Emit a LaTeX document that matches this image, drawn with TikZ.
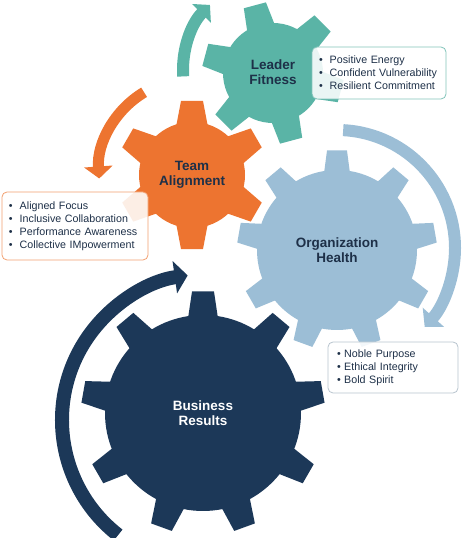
\documentclass[tikz,border=0pt]{standalone}
\usepackage{fontspec}
\setmainfont{Liberation Sans}
\usetikzlibrary{arrows.meta}
\definecolor{fitteal}{RGB}{90,180,166}
\definecolor{teamorange}{RGB}{237,116,48}
\definecolor{healthblue}{RGB}{156,190,214}
\definecolor{resultnavy}{RGB}{28,56,88}
\definecolor{labelnavy}{RGB}{30,48,72}
\definecolor{fitline}{RGB}{130,196,186}
\definecolor{teamline}{RGB}{242,160,112}
\definecolor{healthline}{RGB}{184,196,206}
\newcommand\bul[1][7pt]{\textbullet\hspace{#1}}
% centre, body radius, tip radius, tooth angles, half base, half tip, colour
\newcommand\drawgear[7]{%
\begin{scope}[shift={(#1)}]
\pgfmathsetmacro\gbase{deg(#5/#2)}
\pgfmathsetmacro\gtip{deg(#6/#3)}
\foreach \a in {#4}
  \draw[white,line width=3pt,line join=round] ({\a-\gbase}:{#2-4})--({\a-\gtip}:#3)--({\a+\gtip}:#3)--({\a+\gbase}:{#2-4})--cycle;
\draw[white,line width=3pt] (0,0) circle (#2pt);
\foreach \a in {#4}
  \fill[#7] ({\a-\gbase}:{#2-4})--({\a-\gtip}:#3)--({\a+\gtip}:#3)--({\a+\gbase}:{#2-4})--cycle;
\fill[#7] (0,0) circle (#2pt);
\end{scope}}
\begin{document}
\begin{tikzpicture}[x=1pt,y=1pt,
  gearlabel/.style={align=center,text=labelnavy,font=\fontsize{13.5}{14.5}\selectfont\bfseries},
  bulletbox/.style={draw,line width=0.8pt,rounded corners=5pt,fill=white,fill opacity=0.88,text opacity=1,
    align=left,inner xsep=7pt,text=labelnavy,font=\fontsize{10.7}{13}\selectfont}]
\useasboundingbox (0,0) rectangle (474,538);
\coordinate (fitC) at (273,465);
\coordinate (teamC) at (192,363);
\coordinate (healthC) at (337,288);
\coordinate (resultC) at (203,125);
\drawgear{fitC}{50}{71}{45,105,...,345}{16}{11.5}{fitteal}
\drawgear{healthC}{80}{100}{10,50,...,330}{14}{10}{healthblue}
\drawgear{teamC}{53}{75}{30,90,...,330}{18}{11}{teamorange}
\drawgear{resultC}{98}{122}{10,50,...,330}{16}{11}{resultnavy}
% turning arrows
\draw[fitteal,line width=12pt,-{Triangle[width=26pt,length=12pt]}] ([shift={(2,3)}]fitC) ++(184:92) arc[start angle=184,end angle=135,radius=92pt];
\draw[teamorange,line width=11pt,-{Triangle[width=28pt,length=12pt]}] ([shift={(0,3)}]teamC) ++(121:93) arc[start angle=121,end angle=184,radius=93pt];
\draw[healthblue,line width=12pt,-{Triangle[width=28pt,length=13pt]}] ([shift={(0,2)}]healthC) ++(87:118) arc[start angle=87,end angle=-42,radius=118pt];
\draw[resultnavy,line width=14pt,-{Triangle[width=32pt,length=13pt]}] ([shift={(5,-7)}]resultC) ++(232:146) arc[start angle=232,end angle=98,radius=146pt];
% labels
\node[gearlabel] (fit) at ([yshift=1]fitC) {Leader\\Fitness};
\node[gearlabel] (team) at (teamC) {Team\\Alignment};
\node[gearlabel] (health) at (healthC) {Organization\\Health};
\node[gearlabel,text=white] (result) at (resultC) {Business\\Results};
% lists
\node[bulletbox,draw=fitline,text width=120pt,minimum height=52pt] (fitlist) at (379,465) {\bul Positive Energy\\\bul Confident Vulnerability\\\bul Resilient Commitment};
\node[bulletbox,draw=teamline,text width=132pt,minimum height=68pt] (teamlist) at (75,312) {\bul Aligned Focus\\\bul Inclusive Collaboration\\\bul Performance Awareness\\\bul Collective IMpowerment};
\node[bulletbox,draw=healthline,inner xsep=9pt,text width=112pt,minimum height=51pt] (healthlist) at (393,170.5) {\bul[3.5pt]Noble Purpose\\\bul[3.5pt]Ethical Integrity\\\bul[3.5pt]Bold Spirit};
\end{tikzpicture}
\end{document}
